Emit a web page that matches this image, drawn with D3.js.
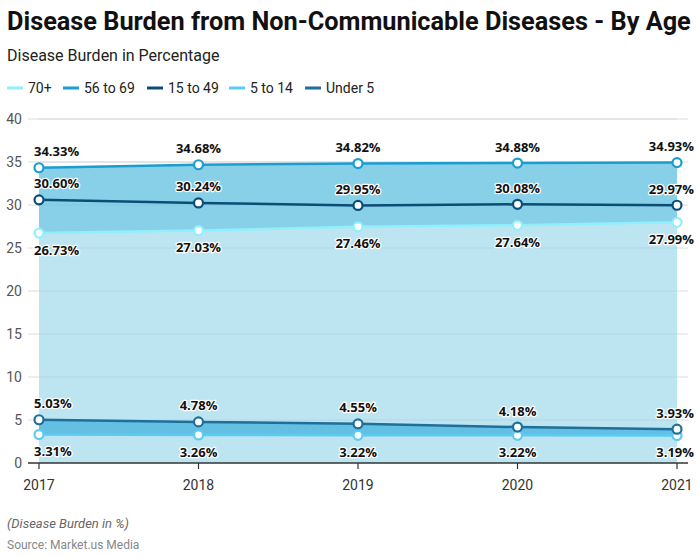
<!DOCTYPE html>
<html>
<head>
<meta charset="utf-8">
<script src="https://cdn.jsdelivr.net/npm/d3@7"></script>
<style>
  html, body { margin: 0; padding: 0; background: #fff; }
  svg { display: block; font-family: Roboto, "Noto Sans", sans-serif; }
</style>
</head>
<body>
<div id="chart"></div>
<script>
// ── Data ────────────────────────────────────────────────────────────────
const years      = [2017, 2018, 2019, 2020, 2021];
const age70plus  = [26.73, 27.03, 27.46, 27.64, 27.99];
const age56to69  = [34.33, 34.68, 34.82, 34.88, 34.93];
const age15to49  = [30.60, 30.24, 29.95, 30.08, 29.97];
const age5to14   = [3.31, 3.26, 3.22, 3.22, 3.19];
const ageUnder5  = [5.03, 4.78, 4.55, 4.18, 3.93];
const yTicks     = [0, 5, 10, 15, 20, 25, 30, 35, 40];

// series: name, values, line colour, area fill (null = none), label side
const series = [
  { name: '70+',      values: age70plus, color: '#8ff0fb', fill: '#bde5f1', label: 'below' },
  { name: '56 to 69', values: age56to69, color: '#1b9dd0', fill: '#88d0e7', label: 'above' },
  { name: '15 to 49', values: age15to49, color: '#0c4d78', fill: null,      label: 'above' },
  { name: '5 to 14',  values: age5to14,  color: '#5ccbf2', fill: '#bde5f1', label: 'below' },
  { name: 'Under 5',  values: ageUnder5, color: '#1e6f99', fill: '#63c0e3', label: 'above' },
];
// areas are painted back to front, each down to zero
const areaOrder = ['56 to 69', '70+', 'Under 5', '5 to 14'];

// ── Layout ──────────────────────────────────────────────────────────────
const W = 699, H = 558;
const svg = d3.select('#chart').append('svg').attr('width', W).attr('height', H);

const x = d3.scalePoint().domain(years).range([39, 677]);
const y = d3.scaleLinear().domain([0, 40]).range([463, 119]);

// Titles
svg.append('text').attr('x', 7).attr('y', 30)
  .style('font-size', '25.3px').style('font-weight', 700).style('fill', '#111')
  .text('Disease Burden from Non-Communicable Diseases - By Age');
svg.append('text').attr('x', 7).attr('y', 61)
  .style('font-size', '16px').style('fill', '#222')
  .text('Disease Burden in Percentage');

// Legend
const legendX = [7, 63, 147, 229, 305];
const leg = svg.append('g').selectAll('g').data(series).join('g')
  .attr('transform', (d, i) => `translate(${legendX[i]},88)`);
leg.append('line').attr('x1', 0).attr('x2', 16).attr('y1', 0).attr('y2', 0)
  .attr('stroke', d => d.color).attr('stroke-width', 3);
leg.append('text').attr('x', 21).attr('y', 0).attr('dy', '0.35em')
  .style('font-size', '14px').style('fill', '#222').text(d => d.name);

// Grid
svg.append('g').selectAll('line').data(yTicks.filter(t => t > 0)).join('line')
  .attr('x1', 28).attr('x2', 688)
  .attr('y1', d => y(d)).attr('y2', d => y(d))
  .attr('stroke', '#dcdcdc').attr('stroke-width', 1);

// Areas
const area = d3.area().x((d, i) => x(years[i])).y0(y(0)).y1(d => y(d));
const byName = Object.fromEntries(series.map(s => [s.name, s]));
svg.append('g').selectAll('path').data(areaOrder.map(n => byName[n])).join('path')
  .attr('d', d => area(d.values))
  .attr('fill', d => d.fill);

// Grid lines show faintly through the fill
svg.append('g').selectAll('line').data(yTicks.filter(t => t > 0)).join('line')
  .attr('x1', 39).attr('x2', 677)
  .attr('y1', d => y(d)).attr('y2', d => y(d))
  .attr('stroke', '#7f9fab').attr('stroke-opacity', 0.18);

// Y axis labels
svg.append('g').selectAll('text').data(yTicks).join('text')
  .attr('x', 22).attr('y', d => y(d)).attr('dy', '0.35em')
  .attr('text-anchor', 'end')
  .style('font-size', '14px').style('fill', '#555')
  .text(d => d);

// X axis
const xAxis = svg.append('g').attr('transform', `translate(0,${y(0)})`);
xAxis.append('line').attr('x1', 28).attr('x2', 688).attr('stroke', '#333').attr('stroke-width', 1.5);
xAxis.selectAll('line.tick').data(years).join('line').attr('class', 'tick')
  .attr('x1', d => x(d)).attr('x2', d => x(d)).attr('y1', 0).attr('y2', 6)
  .attr('stroke', '#333').attr('stroke-width', 1.2);
xAxis.selectAll('text').data(years).join('text')
  .attr('x', d => x(d)).attr('y', 22).attr('dy', '0.35em')
  .attr('text-anchor', 'middle')
  .style('font-size', '14px').style('fill', '#333')
  .text(d => d);

// Lines
const line = d3.line().x((d, i) => x(years[i])).y(d => y(d));
svg.append('g').selectAll('path').data(series).join('path')
  .attr('d', d => line(d.values))
  .attr('fill', 'none').attr('stroke', d => d.color).attr('stroke-width', 2.5);

// Points
const pts = svg.append('g').selectAll('g').data(series).join('g');
pts.selectAll('circle').data(d => d.values.map((v, i) => ({ v, i, s: d }))).join('circle')
  .attr('cx', d => x(years[d.i])).attr('cy', d => y(d.v)).attr('r', 4.5)
  .attr('fill', '#fff').attr('stroke', d => d.s.color).attr('stroke-width', 2.2);

// Value labels (kept inside the plot at the first and last year)
const last = years.length - 1;
const lbl = svg.append('g').selectAll('g').data(series).join('g');
lbl.selectAll('text').data(d => d.values.map((v, i) => ({ v, i, s: d }))).join('text')
  .attr('x', d => d.i === 0 ? 34 : d.i === last ? 694 : x(years[d.i]))
  .attr('y', d => y(d.v) + (d.s.label === 'above' ? -16 : 17))
  .attr('dy', '0.35em')
  .attr('text-anchor', d => d.i === 0 ? 'start' : d.i === last ? 'end' : 'middle')
  .style('font-family', '"Open Sans", sans-serif')
  .style('font-size', '13px').style('font-weight', 700).style('fill', '#111')
  .style('paint-order', 'stroke').style('stroke', '#fff').style('stroke-width', 2.5)
  .style('stroke-linejoin', 'round')
  .text(d => d.v.toFixed(2) + '%');

// Footer
svg.append('text').attr('x', 7).attr('y', 528)
  .style('font-size', '13px').style('font-style', 'italic').style('fill', '#666')
  .text('(Disease Burden in %)');
svg.append('text').attr('x', 7).attr('y', 549)
  .style('font-size', '12px').style('fill', '#888')
  .text('Source: Market.us Media');
</script>
</body>
</html>
